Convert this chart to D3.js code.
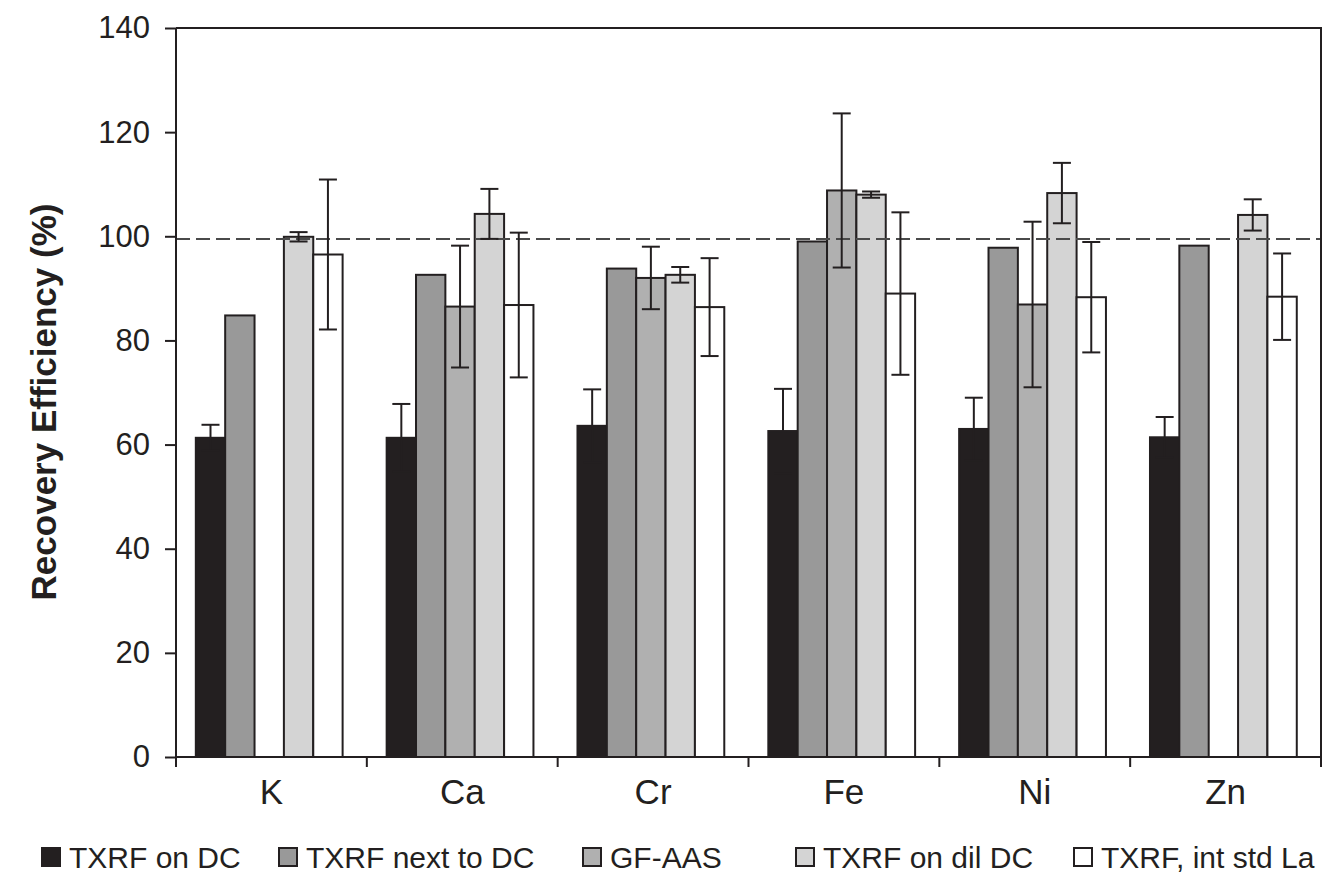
<!DOCTYPE html>
<html>
<head>
<meta charset="utf-8">
<script src="https://cdn.jsdelivr.net/npm/d3@7"></script>
<style>
body{margin:0;background:#fff;}
text{font-family:"Liberation Sans",Arial,sans-serif;fill:#231f20;}
</style>
</head>
<body>
<script>
var elements=["K","Ca","Cr","Fe","Ni","Zn"]
var series=["TXRF on DC","TXRF next to DC","GF-AAS","TXRF on dil DC","TXRF, int std La"]
var fills=["#231f20","#999999","#b0b0b0","#d4d4d4","#ffffff"]
// recovery (%) per series, null = not measured
var onDC=[61.3,61.3,63.6,62.6,63.0,61.4]
var onDCerr=[2.5,6.5,7.0,8.1,6.0,3.9]
var nextDC=[84.8,92.6,93.8,99.0,97.8,98.2]
var nextDCerr=[null,null,null,null,null,null]
var gfaas=[null,86.5,92.0,108.8,86.9,null]
var gfaasErr=[null,11.7,6.0,14.8,15.9,null]
var dilDC=[99.9,104.3,92.6,108.0,108.3,104.1]
var dilDCerr=[0.9,4.8,1.5,0.6,5.8,3.0]
var intStd=[96.5,86.8,86.4,89.0,88.3,88.4]
var intStdErr=[14.4,13.9,9.4,15.6,10.6,8.3]
var reference=99.5
var yTicks=[0,20,40,60,80,100,120,140]

var values=[onDC,nextDC,gfaas,dilDC,intStd]
var errors=[onDCerr,nextDCerr,gfaasErr,dilDCerr,intStdErr]

var W=1336,H=889
var plotL=176,plotR=1321,plotT=28,plotB=757
var ink="#231f20"

var svg=d3.select("body").append("svg")
          .attr("width",W)
          .attr("height",H)

var x0=d3.scaleBand().domain(elements).range([plotL,plotR]).padding(0)
var x1=d3.scaleBand().domain(d3.range(series.length))
         .range([0,x0.bandwidth()])
         .paddingInner(0).paddingOuter(0.75).align(0.45)
var y=d3.scaleLinear().domain([0,140]).range([plotB,plotT])

// build rows
var rows=[]
elements.forEach(function(el,i){
  series.forEach(function(s,j){
    if(values[j][i]!=null){
      rows.push({el:el,s:j,v:values[j][i],e:errors[j][i]})
    }
  })
})

// bars
svg.append("g")
   .selectAll("rect")
   .data(rows)
   .enter()
   .append("rect")
   .attr("x",function(d){return x0(d.el)+x1(d.s)})
   .attr("y",function(d){return y(d.v)})
   .attr("width",x1.bandwidth())
   .attr("height",function(d){return y(0)-y(d.v)})
   .attr("fill",function(d){return fills[d.s]})
   .attr("stroke",ink)
   .attr("stroke-width",2)

// reference line
svg.append("line")
   .attr("x1",plotL).attr("x2",plotR)
   .attr("y1",y(reference)).attr("y2",y(reference))
   .attr("stroke","#4a4a4a")
   .attr("stroke-width",2)
   .attr("stroke-dasharray","14,6")

// error bars
var errRows=rows.filter(function(d){return d.e!=null})
var eb=svg.append("g")
          .selectAll("g")
          .data(errRows)
          .enter()
          .append("g")
          .attr("stroke",ink)
          .attr("stroke-width",2)
var cx=function(d){return x0(d.el)+x1(d.s)+x1.bandwidth()/2}
eb.append("line")
  .attr("x1",cx).attr("x2",cx)
  .attr("y1",function(d){return y(d.v+d.e)})
  .attr("y2",function(d){return y(d.v-d.e)})
eb.append("line")
  .attr("x1",function(d){return cx(d)-9}).attr("x2",function(d){return cx(d)+9})
  .attr("y1",function(d){return y(d.v+d.e)}).attr("y2",function(d){return y(d.v+d.e)})
eb.append("line")
  .attr("x1",function(d){return cx(d)-9}).attr("x2",function(d){return cx(d)+9})
  .attr("y1",function(d){return y(d.v-d.e)}).attr("y2",function(d){return y(d.v-d.e)})

// frame (top + right)
svg.append("path")
   .attr("d","M"+plotL+","+plotT+"H"+plotR+"V"+plotB)
   .attr("fill","none")
   .attr("stroke",ink)
   .attr("stroke-width",2)

// y axis
var yAxis=svg.append("g")
             .attr("transform","translate("+plotL+",0)")
             .call(d3.axisLeft(y).tickValues(yTicks).tickSize(11).tickPadding(15))
yAxis.selectAll("line,path").attr("stroke",ink).attr("stroke-width",2)
yAxis.select(".domain").attr("d","M0,"+plotT+"V"+plotB)
yAxis.selectAll("text")
     .attr("font-size",31)
     .attr("fill",ink)
     .attr("font-family","Liberation Sans,Arial,sans-serif")

// x axis
svg.append("line")
   .attr("x1",plotL).attr("x2",plotR)
   .attr("y1",plotB).attr("y2",plotB)
   .attr("stroke",ink).attr("stroke-width",2)
var bounds=elements.map(function(e){return x0(e)}).concat([plotR])
svg.append("g")
   .selectAll("line")
   .data(bounds)
   .enter()
   .append("line")
   .attr("x1",function(d){return d}).attr("x2",function(d){return d})
   .attr("y1",plotB).attr("y2",plotB+10)
   .attr("stroke",ink).attr("stroke-width",2)
svg.append("g")
   .selectAll("text")
   .data(elements)
   .enter()
   .append("text")
   .attr("x",function(d){return x0(d)+x0.bandwidth()/2})
   .attr("y",804)
   .attr("text-anchor","middle")
   .attr("font-size",35)
   .text(function(d){return d})

// y title
svg.append("text")
   .attr("transform","translate(56,402) rotate(-90)")
   .attr("text-anchor","middle")
   .attr("font-size",35)
   .attr("font-weight","bold")
   .text("Recovery Efficiency (%)")

// legend
var legendX=[41,278,582,795,1073]
var lg=svg.append("g")
          .selectAll("g")
          .data(series)
          .enter()
          .append("g")
          .attr("transform",function(d,i){return "translate("+legendX[i]+",847)"})
lg.append("rect")
  .attr("x",1).attr("y",1)
  .attr("width",18).attr("height",18)
  .attr("fill",function(d,i){return fills[i]})
  .attr("stroke",ink)
  .attr("stroke-width",2)
lg.append("text")
  .attr("x",28)
  .attr("y",21)
  .attr("font-size",30)
  .text(function(d){return d})
</script>
</body>
</html>
